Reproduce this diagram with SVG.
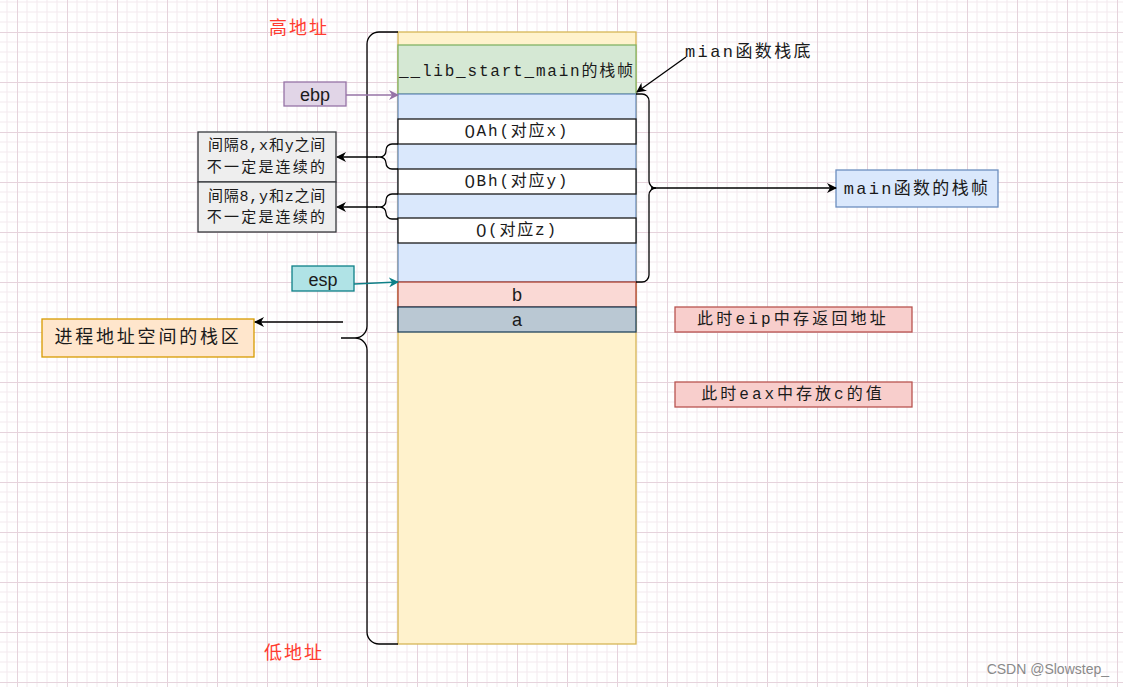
<svg xmlns="http://www.w3.org/2000/svg" width="1123" height="687" viewBox="0 0 1123 687">
<defs>
<pattern id="grid" patternUnits="userSpaceOnUse" x="17" y="32" width="50" height="50">
<path d="M10 0V50M20 0V50M30 0V50M40 0V50M0 10H50M0 20H50M0 30H50M0 40H50" stroke="#f3e9ee" stroke-width="1" fill="none"/>
<path d="M0.5 0V50M0 0.5H50" stroke="#e6d3dc" stroke-width="1" fill="none"/>
</pattern>
<marker id="ah" viewBox="0 0 10 10" refX="9" refY="5" markerWidth="10" markerHeight="10" markerUnits="userSpaceOnUse" orient="auto">
<path d="M0 0L10 5L0 10L3 5Z" fill="#000"/>
</marker>
<marker id="ahp" viewBox="0 0 10 10" refX="9" refY="5" markerWidth="10" markerHeight="10" markerUnits="userSpaceOnUse" orient="auto">
<path d="M0 0L10 5L0 10L3 5Z" fill="#9673a6"/>
</marker>
<marker id="aht" viewBox="0 0 10 10" refX="9" refY="5" markerWidth="10" markerHeight="10" markerUnits="userSpaceOnUse" orient="auto">
<path d="M0 0L10 5L0 10L3 5Z" fill="#0e8088"/>
</marker>
</defs>
<style>
.t{font-family:"Liberation Mono","Noto Sans CJK SC",monospace;font-size:16px;fill:#1a1a1a;text-anchor:middle;dominant-baseline:central;letter-spacing:1.8px}
.z{font-family:"Liberation Sans",sans-serif;font-size:18px}
.s{font-family:"Liberation Sans","Noto Sans CJK SC",sans-serif;font-size:18px;fill:#1a1a1a;text-anchor:middle;dominant-baseline:central}
.g{font-family:"Liberation Mono","Noto Sans CJK SC",monospace;font-size:15px;fill:#1a1a1a;text-anchor:middle;dominant-baseline:central;letter-spacing:0.8px}
.red{font-family:"Noto Sans CJK SC",sans-serif;font-size:18px;fill:#ff3b2f;text-anchor:middle;dominant-baseline:central;letter-spacing:2px}
.ln{fill:none;stroke:#000;stroke-width:1.3}
</style>
<rect width="1123" height="687" fill="#fff"/>
<rect width="1123" height="687" fill="url(#grid)"/>

<g id="stack">
<rect x="398" y="32" width="238" height="612" fill="#fff2cc" stroke="#d6b656" stroke-width="1.3"/>
</g>
<g id="libframe">
<rect x="398" y="45" width="238" height="49" fill="#d5e8d4" stroke="#82b366" stroke-width="1.3"/>
<text class="t" x="517" y="72">__lib_start_main的栈帧</text>
</g>
<g id="mainframe">
<rect x="398" y="94" width="238" height="188" fill="#dae8fc" stroke="#6c8ebf" stroke-width="1.3"/>
</g>
<g id="x">
<rect x="398" y="119" width="238" height="25" fill="#fff" stroke="#1a1a1a" stroke-width="1.3"/>
<text class="t" x="517" y="132"><tspan class="z">0</tspan>Ah(对应x)</text>
</g>
<g id="y">
<rect x="398" y="169" width="238" height="25" fill="#fff" stroke="#1a1a1a" stroke-width="1.3"/>
<text class="t" x="517" y="182"><tspan class="z">0</tspan>Bh(对应y)</text>
</g>
<g id="z">
<rect x="398" y="218" width="238" height="25" fill="#fff" stroke="#1a1a1a" stroke-width="1.3"/>
<text class="t" x="517" y="231"><tspan class="z">0</tspan>(对应z)</text>
</g>
<g id="b">
<rect x="398" y="282" width="238" height="25" fill="#fad9d5" stroke="#ae4132" stroke-width="1.3"/>
<text class="s" x="517" y="295">b</text>
</g>
<g id="a">
<rect x="398" y="307" width="238" height="25" fill="#bac8d3" stroke="#23445d" stroke-width="1.3"/>
<text class="s" x="517" y="320">a</text>
</g>

<g id="high"><text class="red" x="299" y="26">高地址</text></g>
<g id="low"><text class="red" x="294" y="651">低地址</text></g>

<g id="ebp">
<rect x="284" y="82" width="62" height="24" fill="#e1d5e7" stroke="#9673a6" stroke-width="1.3"/>
<text class="s" x="315" y="95">ebp</text>
</g>
<g id="esp">
<rect x="292" y="266" width="62" height="25" fill="#b0e3e6" stroke="#0e8088" stroke-width="1.3"/>
<text class="s" x="323" y="280">esp</text>
</g>
<g id="gap1">
<rect x="198" y="132" width="138" height="50" fill="#eeeeee" stroke="#36393d" stroke-width="1.3"/>
<text class="g" x="267" y="146">间隔8,x和y之间</text>
<text class="g" x="267" y="168" style="letter-spacing:2.2px">不一定是连续的</text>
</g>
<g id="gap2">
<rect x="198" y="182" width="138" height="50" fill="#eeeeee" stroke="#36393d" stroke-width="1.3"/>
<text class="g" x="267" y="197">间隔8,y和z之间</text>
<text class="g" x="267" y="218" style="letter-spacing:2.2px">不一定是连续的</text>
</g>
<g id="stackarea">
<rect x="42" y="319" width="212" height="38" fill="#ffe6cc" stroke="#d79b00" stroke-width="1.3"/>
<text class="t" x="148" y="338" style="font-size:18px;letter-spacing:2.8px">进程地址空间的栈区</text>
</g>
<g id="mainlabel">
<rect x="836" y="170" width="162" height="37" fill="#dae8fc" stroke="#6c8ebf" stroke-width="1.3"/>
<text class="t" x="917" y="189" style="font-size:17px;letter-spacing:2.3px">main函数的栈帧</text>
</g>
<g id="bottomlabel">
<text class="t" x="685" y="52" style="text-anchor:start;font-size:17px;letter-spacing:2.4px">mian函数栈底</text>
</g>
<g id="eip">
<rect x="675" y="307" width="237" height="25" fill="#f8cecc" stroke="#b85450" stroke-width="1.3"/>
<text class="t" x="793" y="320" style="letter-spacing:3.2px">此时eip中存返回地址</text>
</g>
<g id="eax">
<rect x="675" y="382" width="237" height="25" fill="#f8cecc" stroke="#b85450" stroke-width="1.3"/>
<text class="t" x="793" y="395" style="letter-spacing:3px">此时eax中存放c的值</text>
</g>

<g id="connectors">
<path class="ln" d="M398 32H379A12 12 0 0 0 367 44V326A12 12 0 0 1 355 338H341M355 338A12 12 0 0 1 367 350V632A12 12 0 0 0 379 644H398"/>
<path class="ln" d="M343 322H255" marker-end="url(#ah)"/>
<path class="ln" d="M636 94H642A7 7 0 0 1 649 101V181A7 7 0 0 0 656 188H651M656 188A7 7 0 0 0 649 195V275A7 7 0 0 1 642 282H636"/>
<path class="ln" d="M652 188H836" marker-end="url(#ah)"/>
<path class="ln" d="M398 144H392A6 6 0 0 0 386 150V151A6 6 0 0 1 380 157H376M380 157A6 6 0 0 1 386 163V163A6 6 0 0 0 392 169H398"/>
<path class="ln" d="M377 157H337" marker-end="url(#ah)"/>
<path class="ln" d="M398 194H392A6 6 0 0 0 386 200V201A6 6 0 0 1 380 207H376M380 207A6 6 0 0 1 386 213V213A6 6 0 0 0 392 219H398"/>
<path class="ln" d="M377 207H337" marker-end="url(#ah)"/>
<path d="M346 95H398" fill="none" stroke="#9673a6" stroke-width="1.3" marker-end="url(#ahp)"/>
<path d="M354 284L398 282" fill="none" stroke="#0e8088" stroke-width="1.3" marker-end="url(#aht)"/>
<path class="ln" d="M686 57L637 92" marker-end="url(#ah)"/>
</g>
<text x="1109" y="669" style="font-family:'Liberation Sans',sans-serif;font-size:14px;fill:#8a8a8a;text-anchor:end;dominant-baseline:central">CSDN @Slowstep_</text>
</svg>
